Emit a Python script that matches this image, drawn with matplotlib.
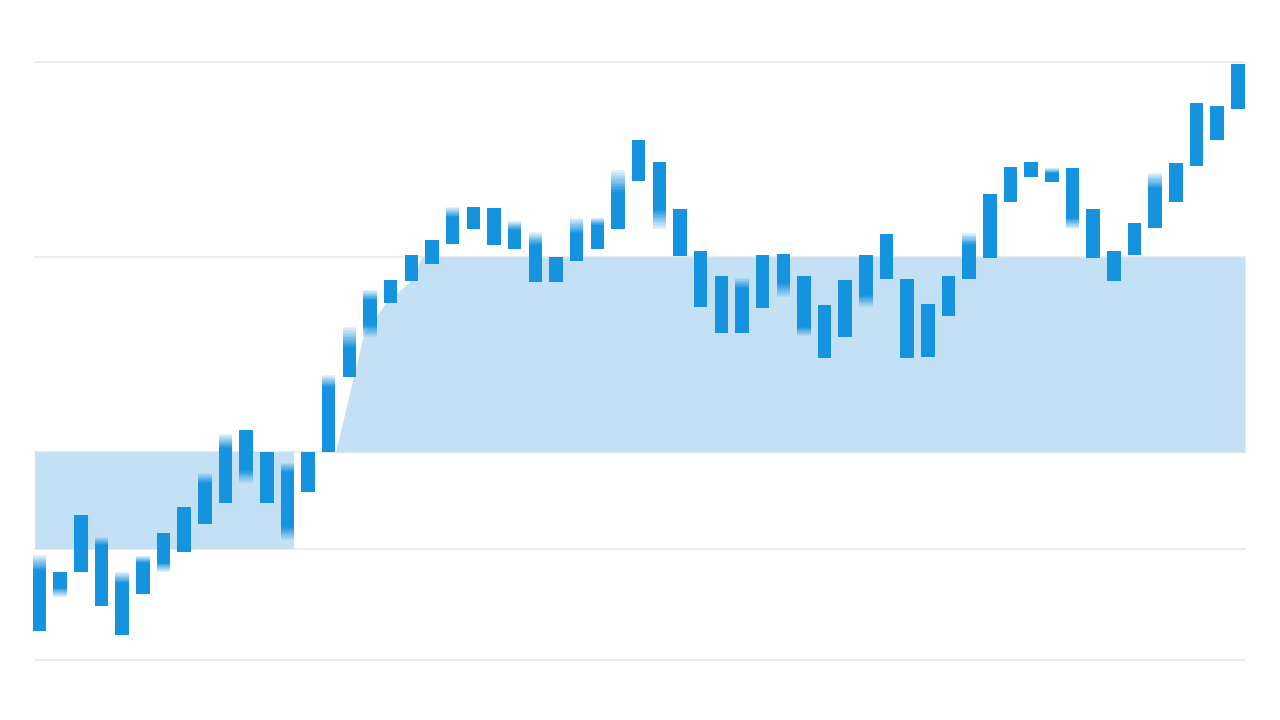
import matplotlib
matplotlib.use("Agg")
import matplotlib.pyplot as plt
import numpy as np

# ---- data ----
body_top = [1395, 1385, 1677, 1523, 1328, 1431, 1585, 1718, 1841, 2021, 2113, 2000, 1897, 2000, 2333,
            2538, 2779, 2882, 3010, 3087, 3205, 3256, 3251, 3138, 3062, 3000, 3123, 3164, 3333, 3600,
            3487, 3246, 3031, 2903, 2841, 3010, 3015, 2903, 2754, 2882, 3010, 3118, 2887, 2759, 2903,
            3062, 3323, 3461, 3487, 3431, 3456, 3246, 3031, 3174, 3354, 3482, 3790, 3774, 3990]
body_bottom = [1082, 1303, 1385, 1210, 1062, 1272, 1431, 1487, 1631, 1738, 1908, 1738, 1615, 1795, 2000,
               2385, 2651, 2764, 2877, 2964, 3067, 3144, 3062, 3041, 2872, 2872, 2979, 3041, 3144, 3390,
               3241, 3005, 2744, 2610, 2610, 2738, 2867, 2641, 2482, 2590, 2805, 2887, 2482, 2487, 2697,
               2887, 2995, 3282, 3410, 3385, 3200, 2995, 2877, 3010, 3149, 3282, 3467, 3600, 3759]
fade_high = [1472, 1385, 1677, 1564, 1385, 1467, 1585, 1718, 1892, 2092, 2113, 2000, 1944, 2000, 2395,
             2641, 2831, 2882, 3010, 3087, 3256, 3256, 3251, 3185, 3128, 3000, 3200, 3200, 3446, 3600,
             3487, 3246, 3031, 2903, 2892, 3010, 3015, 2903, 2754, 2882, 3010, 3118, 2887, 2759, 2903,
             3123, 3323, 3461, 3487, 3456, 3456, 3246, 3031, 3174, 3431, 3482, 3790, 3774, 3990]
fade_low = [1082, 1256, 1385, 1210, 1062, 1272, 1385, 1487, 1631, 1738, 1841, 1738, 1549, 1795, 2000,
            2385, 2590, 2764, 2877, 2964, 3067, 3144, 3062, 3041, 2872, 2872, 2979, 3041, 3144, 3390,
            3144, 3005, 2744, 2610, 2610, 2738, 2795, 2595, 2482, 2590, 2744, 2887, 2482, 2487, 2697,
            2887, 2995, 3282, 3410, 3385, 3144, 2995, 2877, 3010, 3149, 3282, 3467, 3600, 3759]

# shaded zones
zone1_x = [-0.22, 12.33]
zone1_low, zone1_high = 1500, 2000
zone2_x = [14.33, 15.7, 16.8, 17.9, 18.5, 58.35]
zone2_high = [2000, 2610, 2770, 2870, 3000, 3000]
zone2_low = 2000

grid_levels = [1500, 2000, 3000, 4000]

BAR = "#1693DF"
ZONE = "#C4E0F4"
GRID = "#E8E8E8"

fig = plt.figure(figsize=(12.8, 7.2), dpi=100)
ax = fig.add_axes([35 / 1280, 60 / 720, 1210 / 1280, 598 / 720])
ax.set_xlim(-0.218, 58.35)
ax.set_ylim(933, 4000)
ax.axis("off")

for g in grid_levels:
    ax.axhline(g, color=GRID, lw=1.2, zorder=0, clip_on=False)
ax.axhline(933, color=GRID, lw=1.2, zorder=0, clip_on=False)

ax.fill_between(zone1_x, zone1_low, zone1_high, color=ZONE, lw=0, zorder=1)
ax.fill_between(zone2_x, zone2_low, zone2_high, color=ZONE, lw=0, zorder=1)

x = np.arange(len(body_top))
w = 0.653
ax.bar(x, np.array(body_top) - np.array(body_bottom), bottom=body_bottom, width=w,
       color=BAR, lw=0, zorder=3, clip_on=False)

n = 14
for xi, bt, bb, fh, fl in zip(x, body_top, body_bottom, fade_high, fade_low):
    if fh > bt:
        edges = np.linspace(bt, fh, n + 1)
        for k in range(n):
            a = 0.9 * (1 - k / n) + 0.05
            ax.bar(xi, edges[k + 1] - edges[k], bottom=edges[k], width=w, color=BAR,
                   alpha=a, lw=0, zorder=3, clip_on=False)
    if fl < bb:
        edges = np.linspace(bb, fl, n + 1)
        for k in range(n):
            a = 0.9 * (1 - k / n) + 0.05
            ax.bar(xi, edges[k] - edges[k + 1], bottom=edges[k + 1], width=w, color=BAR,
                   alpha=a, lw=0, zorder=3, clip_on=False)

fig.savefig("out.png", dpi=100, facecolor="white")
